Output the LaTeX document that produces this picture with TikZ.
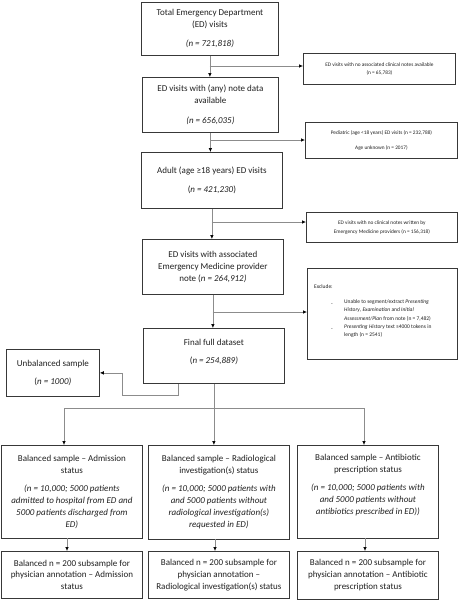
\documentclass[tikz,border=0pt]{standalone}
\usepackage{fontspec}
\setmainfont{Carlito}
\usetikzlibrary{arrows.meta,calc}
\begin{document}
\begin{tikzpicture}[x=1pt,y=-1pt,
  box/.style={draw=black!78, line width=0.8pt, inner sep=0pt, align=center, anchor=north west, text=black!88, font=\fontsize{9}{12}\selectfont},
  side/.style={draw=black!78, line width=0.8pt, inner sep=0pt, align=center, anchor=north west, text=black!88, font=\fontsize{5.3}{8.5}\selectfont},
  small/.style={inner sep=0pt, text=black!88, font=\fontsize{5.5}{8.3}\selectfont},
  conn/.style={draw=black!45, line width=0.7pt},
  arr/.style={conn, -{Latex[length=4pt,width=3.6pt,color=black]}}]
\useasboundingbox (0,0) rectangle (459,600);
% main column
\node[box, minimum width=137pt, minimum height=53pt] (b1) at (141,2)
  {Total Emergency Department\\(ED) visits\\[7pt]\textit{(n = 721,818)}};
\node[box, minimum width=136pt, minimum height=55pt] (b2) at (142,77)
  {ED visits with (any) note data\\available\\[8pt]\textit{(n = 656,035)}};
\node[box, minimum width=141pt, minimum height=56pt] (b3) at (141,152)
  {Adult (age ≥18 years) ED visits\\[7pt](\textit{n = 421,230})};
\node[box, minimum width=141pt, minimum height=55pt] (b4) at (142,239)
  {ED visits with associated\\Emergency Medicine provider\\note (\textit{n = 264,912)}};
\node[box, minimum width=141pt, minimum height=55pt, text depth=9pt] (b5) at (143,328)
  {Final full dataset\\[6pt](\textit{n = 254,889)}};
% side boxes
\node[side, minimum width=152pt, minimum height=31pt] (s1) at (303,53)
  {ED visits with no associated clinical notes available\\(n = 65,783)};
\node[side, minimum width=152pt, minimum height=36pt] (s2) at (305,122)
  {Pediatric (age <18 years) ED visits (n = 232,788)\\[7pt]Age unknown (n = 2017)};
\node[side, minimum width=151pt, minimum height=30pt] (s3) at (306,212)
  {ED visits with no clinical notes written by\\Emergency Medicine providers (n = 156,318)};
\node[side, minimum width=150pt, minimum height=91pt] (s4) at (307,268) {};
\node[small, anchor=base west] (ex) at (314,288) {Exclude:};
\node[small, anchor=base west] (d1) at (331,305) {-};
\node[small, anchor=base west] (d2) at (331,330) {-};
\node[small, anchor=north west, align=left] (ext) at (344,299.5)
  {Unable to segment/extract \textit{Presenting}\\
   \textit{History}, \textit{Examination} and \textit{Initial}\\
   \textit{Assessment/Plan} from note (n = 7,482)\\
   \textit{Presenting History} text ≥4000 tokens in\\
   length (n = 2541)};
% unbalanced
\node[box, minimum width=93pt, minimum height=47pt] (u) at (6,349)
  {Unbalanced sample\\[6pt](\textit{n = 1000)}};
% bottom rows
\node[box, minimum width=141pt, minimum height=93pt] (A1) at (1,445)
  {Balanced sample – Admission\\status\\[6pt]\textit{(n = 10,000; 5000 patients}\\\textit{admitted to hospital from ED and}\\\textit{5000 patients discharged from}\\\textit{ED)}};
\node[box, minimum width=141pt, minimum height=94pt] (B1) at (148,445)
  {Balanced sample – Radiological\\investigation(s) status\\[6pt]\textit{(n = 10,000; 5000 patients with}\\\textit{and 5000 patients without}\\\textit{radiological investigation(s)}\\\textit{requested in ED)}};
\node[box, minimum width=141pt, minimum height=93pt, text depth=16pt] (C1) at (297,445)
  {Balanced sample – Antibiotic\\prescription status\\[6pt]\textit{(n = 10,000; 5000 patients with}\\\textit{and 5000 patients without}\\\textit{antibiotics prescribed in ED))}};
\node[box, minimum width=141pt, minimum height=47pt] (A2) at (1,551)
  {Balanced n = 200 subsample for\\physician annotation – Admission\\status};
\node[box, minimum width=141pt, minimum height=47pt] (B2) at (148,551)
  {Balanced n = 200 subsample for\\physician annotation –\\Radiological investigation(s) status};
\node[box, minimum width=141pt, minimum height=48pt] (C2) at (297,551)
  {Balanced n = 200 subsample for\\physician annotation – Antibiotic\\prescription status};
% main column connectors
\draw[arr] (b1.south) -- (b1.south |- b2.north);
\draw[arr] (b2.south) -- (b2.south |- b3.north);
\draw[arr] (b3.south) -- (b3.south |- b4.north);
\draw[arr] (b4.south) -- (b4.south |- b5.north);
\coordinate (j1) at (209.5,66);
\coordinate (j2) at (210,140);
\coordinate (j3) at (211.5,222);
\coordinate (j4) at (212.5,312);
\draw[arr] (j1) -- (j1 -| s1.west);
\draw[arr] (j2) -- (j2 -| s2.west);
\draw[arr] (j3) -- (j3 -| s3.west);
\draw[arr] (j4) -- (j4 -| s4.west);
% unbalanced elbow
\coordinate (e1) at (178,395);
\coordinate (e2) at (122,395);
\draw[arr] (b5.south -| e1) -- (e1) -- (e2) -- (e2 |- u.east) -- (u.east);
% tree
\coordinate (t) at (213.5,408);
\coordinate (tA) at (64,408);
\coordinate (tC) at (364,408);
\draw[conn] (tA) -- (tC);
\draw[arr] (b5.south) -- (b5.south |- B1.north);
\draw[arr] (tA) -- (tA |- A1.north);
\draw[arr] (tC) -- (tC |- C1.north);
% row connectors
\coordinate (rA) at (67,538);
\coordinate (rB) at (215,539);
\coordinate (rC) at (365,538);
\draw[arr] (rA) -- (rA |- A2.north);
\draw[arr] (rB) -- (rB |- B2.north);
\draw[arr] (rC) -- (rC |- C2.north);
\end{tikzpicture}
\end{document}
